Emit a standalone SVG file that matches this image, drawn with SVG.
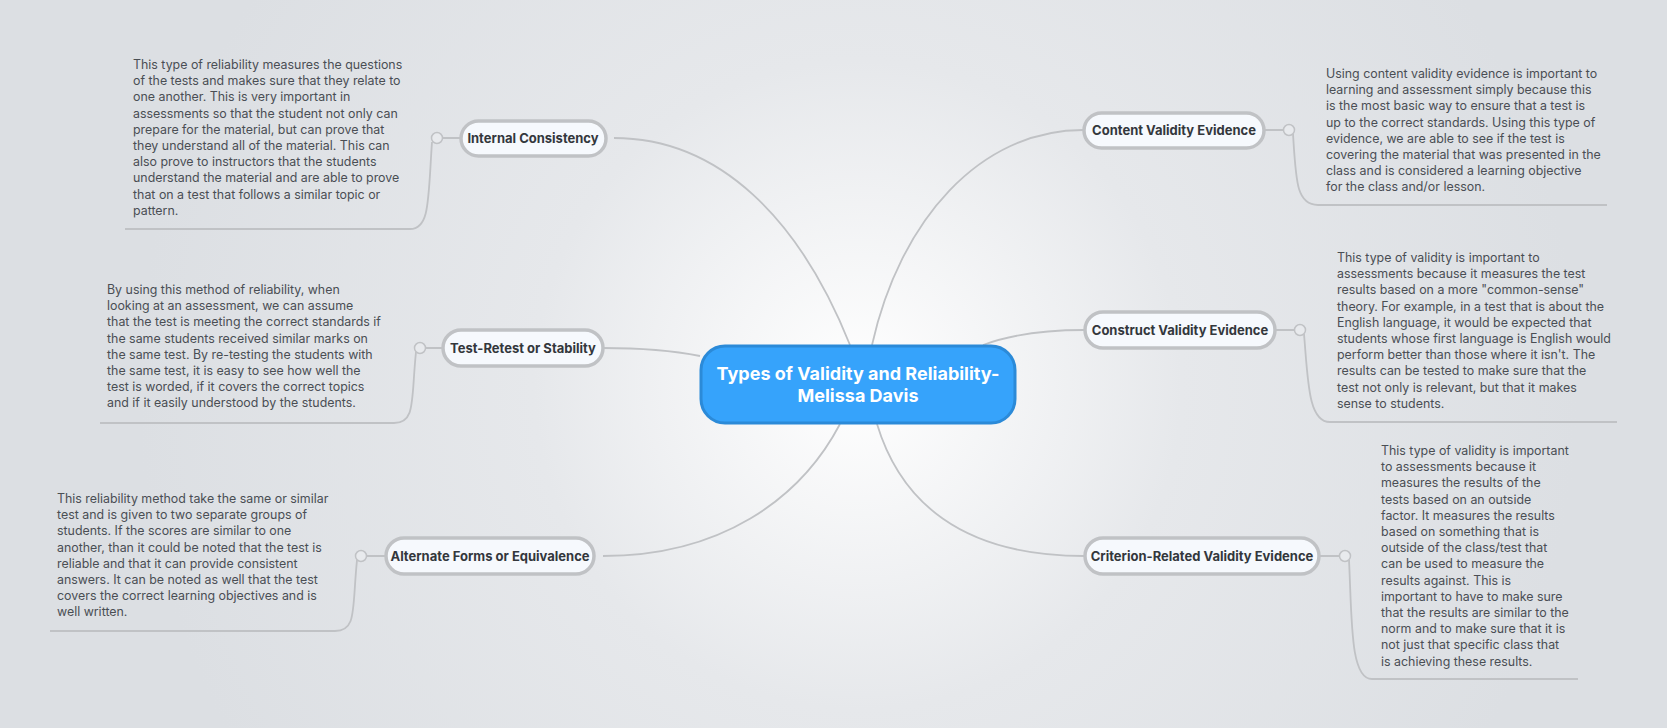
<svg xmlns="http://www.w3.org/2000/svg" width="1667" height="728" viewBox="0 0 1667 728">
<defs>
<radialGradient id="bg" cx="858" cy="385" r="720" gradientUnits="userSpaceOnUse">
<stop offset="0" stop-color="#ffffff"/><stop offset="0.45" stop-color="#e6e8eb"/><stop offset="1" stop-color="#dcdfe3"/>
</radialGradient>
<style>
.n{fill:#f6f9fd;stroke:#c0c2c5;stroke-width:3.5}
.t{font-family:Inter,"Liberation Sans",sans-serif;font-size:13px;font-weight:700;fill:#33373c;text-anchor:middle}
.b{font-family:Inter,"Liberation Sans",sans-serif;font-size:12.4px;fill:#4a4e54}
.c{fill:none;stroke:#c0c2c5;stroke-width:1.8}
.k{fill:#e8eaed;stroke:#c0c2c5;stroke-width:1.5}
</style>
</defs>
<rect width="1667" height="728" fill="url(#bg)"/>
<g id="connectors">
<path class="c" d="M614,138 C720,138 800,220 850,345"/>
<path class="c" d="M603,348 C650,348 680,352 700,356"/>
<path class="c" d="M603,556 C720,556 800,500 840,424"/>
<path class="c" d="M1083,130 C980,130 900,220 872,345"/>
<path class="c" d="M1084,330 C1040,330 1010,335 983,345"/>
<path class="c" d="M1084,556 C960,556 900,500 877,424"/>
<path class="c" d="M460,138 H442 M432,142 C428,200 430,229 410,229 H125"/>
<path class="c" d="M442,348 H425 M416,352 C411,400 416,423 394,423 H100"/>
<path class="c" d="M385,556 H366 M357,560 C352,610 357,631 335,631 H50"/>
<path class="c" d="M1264,130 H1284 M1293,134 C1296,180 1296,205 1318,205 H1607"/>
<path class="c" d="M1275,330 H1295 M1304,334 C1308,380 1308,422 1330,422 H1617"/>
<path class="c" d="M1319,556 H1340 M1349,560 C1352,620 1350,679 1372,679 H1578"/>
<circle class="k" cx="437" cy="138" r="5.5"/>
<circle class="k" cx="420" cy="348" r="5.5"/>
<circle class="k" cx="361" cy="556" r="5.5"/>
<circle class="k" cx="1289" cy="130" r="5.5"/>
<circle class="k" cx="1300" cy="330" r="5.5"/>
<circle class="k" cx="1345" cy="556" r="5.5"/>
</g>
<g id="center">
<rect x="701" y="346" width="314" height="77" rx="24" fill="#36a3fb" stroke="#2b8ad8" stroke-width="3"/>
<text x="858" y="380" font-family="Inter,'Liberation Sans',sans-serif" font-size="18" font-weight="700" fill="#fff" text-anchor="middle">Types of Validity and Reliability-</text>
<text x="858" y="402" font-family="Inter,'Liberation Sans',sans-serif" font-size="18" font-weight="700" fill="#fff" text-anchor="middle">Melissa Davis</text>
</g>
<g id="internal">
<rect class="n" x="461" y="121" width="145" height="35" rx="17.5"/>
<text class="t" x="533" y="143">Internal Consistency</text>
<text class="b" x="133" y="69"><tspan x="133">This type of reliability measures the questions</tspan><tspan x="133" dy="16.2">of the tests and makes sure that they relate to</tspan><tspan x="133" dy="16.2">one another. This is very important in</tspan><tspan x="133" dy="16.2">assessments so that the student not only can</tspan><tspan x="133" dy="16.2">prepare for the material, but can prove that</tspan><tspan x="133" dy="16.2">they understand all of the material. This can</tspan><tspan x="133" dy="16.2">also prove to instructors that the students</tspan><tspan x="133" dy="16.2">understand the material and are able to prove</tspan><tspan x="133" dy="16.2">that on a test that follows a similar topic or</tspan><tspan x="133" dy="16.2">pattern.</tspan></text>
</g>
<g id="testretest">
<rect class="n" x="443" y="330" width="160" height="36" rx="18"/>
<text class="t" x="523" y="353">Test-Retest or Stability</text>
<text class="b" x="107" y="294"><tspan x="107">By using this method of reliability, when</tspan><tspan x="107" dy="16.2">looking at an assessment, we can assume</tspan><tspan x="107" dy="16.2">that the test is meeting the correct standards if</tspan><tspan x="107" dy="16.2">the same students received similar marks on</tspan><tspan x="107" dy="16.2">the same test. By re-testing the students with</tspan><tspan x="107" dy="16.2">the same test, it is easy to see how well the</tspan><tspan x="107" dy="16.2">test is worded, if it covers the correct topics</tspan><tspan x="107" dy="16.2">and if it easily understood by the students.</tspan></text>
</g>
<g id="alternate">
<rect class="n" x="386" y="538" width="208" height="36" rx="18"/>
<text class="t" x="490" y="561">Alternate Forms or Equivalence</text>
<text class="b" x="57" y="503"><tspan x="57">This reliability method take the same or similar</tspan><tspan x="57" dy="16.2">test and is given to two separate groups of</tspan><tspan x="57" dy="16.2">students. If the scores are similar to one</tspan><tspan x="57" dy="16.2">another, than it could be noted that the test is</tspan><tspan x="57" dy="16.2">reliable and that it can provide consistent</tspan><tspan x="57" dy="16.2">answers. It can be noted as well that the test</tspan><tspan x="57" dy="16.2">covers the correct learning objectives and is</tspan><tspan x="57" dy="16.2">well written.</tspan></text>
</g>
<g id="content">
<rect class="n" x="1084" y="113" width="180" height="35" rx="17.5"/>
<text class="t" x="1174" y="135">Content Validity Evidence</text>
<text class="b" x="1326" y="78"><tspan x="1326">Using content validity evidence is important to</tspan><tspan x="1326" dy="16.2">learning and assessment simply because this</tspan><tspan x="1326" dy="16.2">is the most basic way to ensure that a test is</tspan><tspan x="1326" dy="16.2">up to the correct standards. Using this type of</tspan><tspan x="1326" dy="16.2">evidence, we are able to see if the test is</tspan><tspan x="1326" dy="16.2">covering the material that was presented in the</tspan><tspan x="1326" dy="16.2">class and is considered a learning objective</tspan><tspan x="1326" dy="16.2">for the class and/or lesson.</tspan></text>
</g>
<g id="construct">
<rect class="n" x="1085" y="312" width="190" height="36" rx="18"/>
<text class="t" x="1180" y="335">Construct Validity Evidence</text>
<text class="b" x="1337" y="262"><tspan x="1337">This type of validity is important to</tspan><tspan x="1337" dy="16.2">assessments because it measures the test</tspan><tspan x="1337" dy="16.2">results based on a more "common-sense"</tspan><tspan x="1337" dy="16.2">theory. For example, in a test that is about the</tspan><tspan x="1337" dy="16.2">English language, it would be expected that</tspan><tspan x="1337" dy="16.2">students whose first language is English would</tspan><tspan x="1337" dy="16.2">perform better than those where it isn't. The</tspan><tspan x="1337" dy="16.2">results can be tested to make sure that the</tspan><tspan x="1337" dy="16.2">test not only is relevant, but that it makes</tspan><tspan x="1337" dy="16.2">sense to students.</tspan></text>
</g>
<g id="criterion">
<rect class="n" x="1085" y="538" width="234" height="36" rx="18"/>
<text class="t" x="1202" y="561">Criterion-Related Validity Evidence</text>
<text class="b" x="1381" y="455"><tspan x="1381">This type of validity is important</tspan><tspan x="1381" dy="16.2">to assessments because it</tspan><tspan x="1381" dy="16.2">measures the results of the</tspan><tspan x="1381" dy="16.2">tests based on an outside</tspan><tspan x="1381" dy="16.2">factor. It measures the results</tspan><tspan x="1381" dy="16.2">based on something that is</tspan><tspan x="1381" dy="16.2">outside of the class/test that</tspan><tspan x="1381" dy="16.2">can be used to measure the</tspan><tspan x="1381" dy="16.2">results against. This is</tspan><tspan x="1381" dy="16.2">important to have to make sure</tspan><tspan x="1381" dy="16.2">that the results are similar to the</tspan><tspan x="1381" dy="16.2">norm and to make sure that it is</tspan><tspan x="1381" dy="16.2">not just that specific class that</tspan><tspan x="1381" dy="16.2">is achieving these results.</tspan></text>
</g>
</svg>
